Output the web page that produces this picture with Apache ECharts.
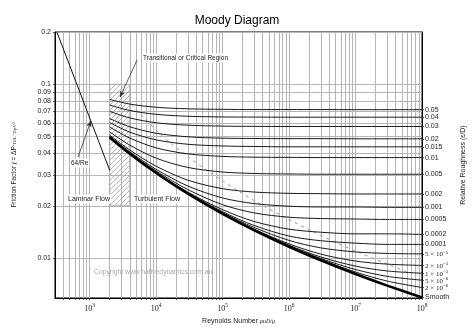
<!DOCTYPE html>
<html><head><meta charset="utf-8">
<script src="https://cdn.jsdelivr.net/npm/echarts@6/dist/echarts.min.js"></script>
<style>html,body{margin:0;padding:0;background:#fff}#c{width:474px;height:334px}</style>
</head><body><div id="c"></div>
<script>
// Reynolds numbers at which the curves were read
const RE = [2000, 4000, 1e4, 3e4, 1e5, 3e5, 1e6, 3e6, 1e7, 3e7, 1e8];
// Friction factor readings per relative roughness
const F_0_05   = [0.0819, 0.0770, 0.0738, 0.0723, 0.0718, 0.0716, 0.0716, 0.0716, 0.0715, 0.0715, 0.0715];
const F_0_04   = [0.0760, 0.0707, 0.0672, 0.0655, 0.0649, 0.0648, 0.0647, 0.0647, 0.0647, 0.0647, 0.0647];
const F_0_03   = [0.0699, 0.0641, 0.0601, 0.0582, 0.0575, 0.0573, 0.0572, 0.0572, 0.0572, 0.0572, 0.0572];
const F_0_02   = [0.0635, 0.0570, 0.0523, 0.0499, 0.0490, 0.0488, 0.0487, 0.0487, 0.0486, 0.0486, 0.0486];
const F_0_015  = [0.0602, 0.0531, 0.0479, 0.0452, 0.0442, 0.0439, 0.0437, 0.0437, 0.0437, 0.0437, 0.0437];
const F_0_01   = [0.0568, 0.0491, 0.0431, 0.0398, 0.0385, 0.0381, 0.0380, 0.0379, 0.0379, 0.0379, 0.0379];
const F_0_005  = [0.0532, 0.0447, 0.0376, 0.03325, 0.0313, 0.0307, 0.0305, 0.0304, 0.0304, 0.0304, 0.0304];
const F_0_002  = [0.0510, 0.0419, 0.0338, 0.0281, 0.0251, 0.0240, 0.0236, 0.0235, 0.0234, 0.0234, 0.0234];
const F_0_001  = [0.0502, 0.0409, 0.0324, 0.0260, 0.0222, 0.0206, 0.0199, 0.0197, 0.0197, 0.0196, 0.0196];
const F_0_0005 = [0.0498, 0.0404, 0.0317, 0.0248, 0.0203, 0.0182, 0.0172, 0.0169, 0.0168, 0.0167, 0.0167];
const F_0_0002 = [0.0496, 0.0401, 0.0312, 0.0240, 0.0190, 0.01625, 0.01468, 0.0141, 0.0138, 0.0138, 0.0137];
const F_0_0001 = [0.0495, 0.0400, 0.0310, 0.0238, 0.0185, 0.0154, 0.0134, 0.0126, 0.0122, 0.0120, 0.0120];
const F_5e_5   = [0.0495, 0.0400, 0.0310, 0.0236, 0.01825, 0.0150, 0.01265, 0.01146, 0.01086, 0.01065, 0.01058];
const F_2e_5   = [0.0495, 0.0400, 0.0309, 0.02354, 0.0181, 0.01467, 0.01208, 0.01055, 0.00962, 0.00924, 0.00908];
const F_1e_5   = [0.0495, 0.0400, 0.0309, 0.0235, 0.01804, 0.01457, 0.01187, 0.01016, 0.0090, 0.00844, 0.00819];
const F_5e_6   = [0.0495, 0.0400, 0.0309, 0.0235, 0.01801, 0.01452, 0.01175, 0.00996, 0.0086, 0.00786, 0.00747];
const F_2e_6   = [0.0495, 0.0399, 0.0309, 0.0235, 0.0180, 0.01448, 0.01169, 0.00982, 0.00832, 0.00738, 0.00678];
const F_SMOOTH = [0.0495, 0.0399, 0.0309, 0.02347, 0.01799, 0.01446, 0.01164, 0.00972, 0.0081, 0.00695, 0.00594];
const CURVES = [F_0_05, F_0_04, F_0_03, F_0_02, F_0_015, F_0_01, F_0_005, F_0_002, F_0_001, F_0_0005,
                F_0_0002, F_0_0001, F_5e_5, F_2e_5, F_1e_5, F_5e_6, F_2e_6, F_SMOOTH];
const ROUGH_LABELS = ['0.05','0.04','0.03','0.02','0.015','0.01','0.005','0.002','0.001','0.0005',
                      '0.0002','0.0001','5 × 10^-5','2 × 10^-5','1 × 10^-5','5 × 10^-6','2 × 10^-6','Smooth'];
// Laminar line 64/Re
const LAMINAR_RE = [320, 2000];
const LAMINAR_F = [0.2, 0.032];
// Dashed boundary of complete turbulence
const DASH_RE = [4200, 12500, 28000, 63000, 180000, 390000, 850000, 2.35e6, 5e6, 1.07e7, 2.9e7, 6.1e7];
const DASH_F  = [0.0765, 0.0502, 0.0391, 0.0313, 0.0241, 0.0202, 0.0172, 0.01414, 0.01234, 0.01087, 0.00928, 0.0083];
// Critical zone
const CRIT_RE = [2000, 4000];
const CRIT_F = [0.1, 0.02];
// Ticks
const Y_TICKS = [0.01, 0.02, 0.03, 0.04, 0.05, 0.06, 0.07, 0.08, 0.09, 0.1, 0.2];
const X_LABEL_TICKS = [1e3, 1e4, 1e5, 1e6, 1e7, 1e8];
const X_DECADES = [100, 1e3, 1e4, 1e5, 1e6, 1e7, 1e8];
const X_MULT = [1, 2, 3, 4, 5, 6, 7, 8, 9];
// annotation arrows (data space)
const ARROW_CRIT = [[5150, 0.138], [2860, 0.0845]];
const ARROW_LAM = [[667, 0.0382], [1040, 0.0615]];

const X_MIN = 300, X_MAX = 1e8, Y_MIN = 0.0059, Y_MAX = 0.2;
const X_GRID = [];
X_DECADES.forEach(d => X_MULT.forEach(m => { const v = d * m; if (v > X_MIN && v <= X_MAX) X_GRID.push(v); }));
const ENDS = CURVES.map(c => c[c.length - 1]);

function nearestIdx(arr, v) {
  let bi = 0, bd = Infinity;
  arr.forEach((a, i) => { const d = Math.abs(Math.log(a) - Math.log(v)); if (d < bd) { bd = d; bi = i; } });
  return bi;
}

const FONT = 'Liberation Sans';
const SERIF = 'Liberation Serif';

// hatch pattern
const pc = document.createElement('canvas');
pc.width = 5; pc.height = 5;
const pctx = pc.getContext('2d');
pctx.strokeStyle = '#9a9a9a'; pctx.lineWidth = 0.7;
pctx.beginPath(); pctx.moveTo(0, 5); pctx.lineTo(5, 0); pctx.moveTo(-1, 1); pctx.lineTo(1, -1); pctx.moveTo(4, 6); pctx.lineTo(6, 4); pctx.stroke();

const chart = echarts.init(document.getElementById('c'), null, {renderer: 'canvas'});

const series = [];
series.push({
  type: 'line', name: 'laminar', silent: true, showSymbol: false,
  data: LAMINAR_RE.map((r, i) => [r, LAMINAR_F[i]]),
  lineStyle: {color: '#111', width: 1}, z: 5,
  markArea: {
    silent: true, z: 1,
    itemStyle: {color: {image: pc, repeat: 'repeat'}, borderColor: '#aaa', borderWidth: 1},
    data: [[{coord: [CRIT_RE[0], CRIT_F[0]]}, {coord: [CRIT_RE[1], CRIT_F[1]]}]]
  },
  markLine: {
    silent: true, symbol: ['none', 'arrow'], symbolSize: [4, 6],
    label: {show: false},
    lineStyle: {color: '#333', width: 0.8, type: 'solid'},
    data: [
      [{coord: ARROW_CRIT[0]}, {coord: ARROW_CRIT[1]}],
      [{coord: ARROW_LAM[0]}, {coord: ARROW_LAM[1]}]
    ]
  }
});
series.push({
  type: 'line', name: 'dash', silent: true, showSymbol: false, smooth: 0.3,
  data: DASH_RE.map((r, i) => [r, DASH_F[i]]),
  lineStyle: {color: '#999', width: 1, type: [3, 4]}, z: 4
});
CURVES.forEach((c, k) => {
  const isSmooth = k === CURVES.length - 1;
  series.push({
    type: 'line', name: ROUGH_LABELS[k], silent: true, showSymbol: false,
    smooth: 0.3,
    data: RE.map((r, i) => [r, c[i]]),
    lineStyle: {color: '#000', width: isSmooth ? 2.6 : 0.9}, z: 6
  });
});

const option = {
  animation: false,
  backgroundColor: '#fff',
  title: {text: 'Moody Diagram', left: 'center', top: 10,
    textStyle: {fontFamily: FONT, fontSize: 12, fontWeight: 'normal', color: '#000'}},
  grid: {left: 55, right: 52, top: 32, bottom: 36, show: true, borderColor: '#000', borderWidth: 1,
    outerBoundsMode: 'none', containLabel: false},
  xAxis: {
    type: 'log', min: X_MIN, max: X_MAX, logBase: 10,
    name: '{a|Reynolds Number }{b|ρuD/μ}', nameLocation: 'middle', nameGap: 20,
    nameTextStyle: {rich: {a: {fontFamily: FONT, fontSize: 7, color: '#222'}, b: {fontFamily: SERIF, fontStyle: 'italic', fontSize: 6, color: '#222'}}},
    axisLine: {show: true, lineStyle: {color: '#000', width: 1}},
    axisTick: {show: true, length: 2, customValues: X_GRID, lineStyle: {color: '#333', width: 0.8}},
    axisLabel: {show: true, customValues: X_LABEL_TICKS, margin: 5,
      formatter: v => '{b|10}{s|' + Math.round(Math.log10(v)) + '}',
      rich: {b: {fontFamily: SERIF, fontSize: 8, color: '#222', lineHeight: 10, verticalAlign: 'bottom'},
             s: {fontFamily: SERIF, fontSize: 5.5, color: '#222', lineHeight: 6, verticalAlign: 'top'}}},
    splitLine: {show: true, lineStyle: {color: '#b5b5b5', width: 1}},
    minorTick: {show: false}, minorSplitLine: {show: false}
  },
  yAxis: [{
    type: 'log', min: Y_MIN, max: Y_MAX, logBase: 10, position: 'left',
    name: '{a|Friction Factor }{i|f}{a| = ΔP·}{s|D/L}{a|·}{s|2/ρV²}', nameLocation: 'middle', nameGap: 37, nameRotate: 90,
    nameTextStyle: {rich: {a: {fontFamily: FONT, fontSize: 6.5, color: '#222'}, i: {fontFamily: SERIF, fontStyle: 'italic', fontSize: 7, color: '#222'}, s: {fontFamily: SERIF, fontSize: 5, color: '#222'}}},
    axisLine: {show: true, lineStyle: {color: '#000', width: 1}},
    axisTick: {show: true, length: 2, customValues: Y_TICKS, lineStyle: {color: '#333', width: 0.8}},
    axisLabel: {show: true, customValues: Y_TICKS, margin: 4, fontFamily: FONT, fontSize: 7, color: '#222',
      formatter: v => String(Y_TICKS[nearestIdx(Y_TICKS, v)])},
    splitLine: {show: true, lineStyle: {color: '#b5b5b5', width: 1}}
  }, {
    type: 'log', min: Y_MIN, max: Y_MAX, logBase: 10, position: 'right',
    name: 'Relative Roughness (ε/D)', nameLocation: 'middle', nameGap: 33, nameRotate: 90,
    nameTextStyle: {fontFamily: FONT, fontSize: 7, color: '#222'},
    axisLine: {show: true, lineStyle: {color: '#000', width: 1}},
    axisTick: {show: true, length: 2, customValues: ENDS, lineStyle: {color: '#333', width: 0.8}},
    axisLabel: {show: true, customValues: ENDS, margin: 3, hideOverlap: false,
      formatter: v => {
        const lab = ROUGH_LABELS[nearestIdx(ENDS, v)];
        if (lab.indexOf('^') >= 0) { const p = lab.split('^'); return '{n|' + p[0] + '}{s|' + p[1].replace('-', '−') + '}'; }
        return '{t|' + lab + '}';
      },
      rich: {t: {fontFamily: FONT, fontSize: 7, color: '#222', lineHeight: 8},
             n: {fontFamily: SERIF, fontSize: 7, color: '#222', lineHeight: 8, verticalAlign: 'bottom'},
             s: {fontFamily: SERIF, fontSize: 5, color: '#222', lineHeight: 5, verticalAlign: 'top'}}},
    splitLine: {show: false}
  }],
  graphic: [
    {type: 'text', x: 142, y: 58, z: 50, style: {text: 'Transitional or Critical Region', fontFamily: FONT, fontSize: 6.5, fill: '#222', align: 'left', verticalAlign: 'middle', backgroundColor: '#fff', padding: [1, 1]}},
    {type: 'text', x: 70, y: 163, z: 50, style: {text: '64/Re', fontFamily: FONT, fontSize: 6.5, fill: '#222', align: 'left', verticalAlign: 'middle', backgroundColor: '#fff', padding: [1, 1]}},
    {type: 'text', x: 67, y: 199, z: 50, style: {text: 'Laminar Flow', fontFamily: FONT, fontSize: 7, fill: '#222', align: 'left', verticalAlign: 'middle', backgroundColor: '#fff', padding: [1, 1]}},
    {type: 'text', x: 133, y: 199, z: 50, style: {text: 'Turbulent Flow', fontFamily: FONT, fontSize: 7, fill: '#222', align: 'left', verticalAlign: 'middle', backgroundColor: '#fff', padding: [1, 1]}},
    {type: 'text', x: 94, y: 272, z: 50, style: {text: 'Copyright www.nativedynamics.com.au', fontFamily: FONT, fontSize: 6.8, fill: '#aaa', align: 'left', verticalAlign: 'middle'}}
  ],
  series: series
};
chart.setOption(option);
</script></body></html>
